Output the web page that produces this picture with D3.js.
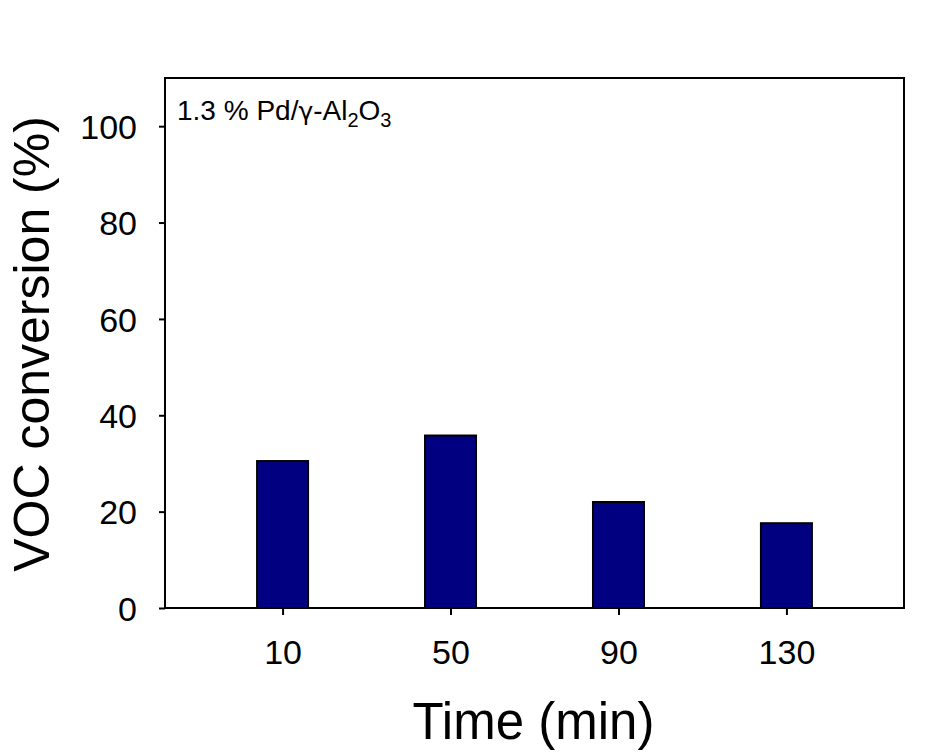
<!DOCTYPE html>
<html>
<head>
<meta charset="utf-8">
<script src="https://cdn.jsdelivr.net/npm/d3@7"></script>
<style>
  body { margin: 0; background: #fff; }
  text { font-family: "Liberation Sans", Arial, sans-serif; fill: #000; }
</style>
</head>
<body>
<div class="chart"></div>
<script>
// data
const times = ["10", "50", "90", "130"];
const conversion = [30.5, 35.8, 22.0, 17.6];
const yTicks = [0, 20, 40, 60, 80, 100];

const margin = {top: 78, right: 40, bottom: 147, left: 165};
const width = 944 - margin.left - margin.right;
const height = 755 - margin.top - margin.bottom;

const svg = d3.select('.chart')
    .append('svg')
    .attr('width', 944)
    .attr('height', 755)
    .append('g')
    .attr('transform', `translate(${margin.left},${margin.top})`);

const xScale = d3.scalePoint()
    .domain(times)
    .range([0, width])
    .padding(0.7);

const yScale = d3.scaleLinear()
    .domain([0, 110])
    .range([height, 0]);

const barWidth = 51;

// bars
svg.selectAll('rect.bar')
    .data(times.map((t, i) => ({time: t, value: conversion[i]})))
    .enter()
    .append('rect')
    .attr('class', 'bar')
    .attr('x', d => xScale(d.time) - barWidth / 2)
    .attr('y', d => yScale(d.value))
    .attr('width', barWidth)
    .attr('height', d => height - yScale(d.value))
    .attr('fill', '#000080')
    .attr('stroke', '#000')
    .attr('stroke-width', 2);

// axes
const xAxis = d3.axisBottom(xScale).tickSize(7).tickPadding(26);
const yAxis = d3.axisLeft(yScale).tickValues(yTicks).tickSize(6).tickPadding(22);

const gx = svg.append('g')
    .attr('class', 'axis x-axis')
    .attr('transform', `translate(0,${height})`)
    .call(xAxis);

const gy = svg.append('g')
    .attr('class', 'axis y-axis')
    .call(yAxis);

[gx, gy].forEach(g => {
    g.select('.domain').remove();
    g.selectAll('line').attr('stroke', '#000').attr('stroke-width', 2);
    g.selectAll('text')
        .attr('font-size', 34)
        .attr('font-family', '"Liberation Sans", Arial, sans-serif');
});
gy.selectAll('text').attr('dy', '0.36em');
gx.selectAll('text').attr('dy', '0.68em');

// frame
svg.append('rect')
    .attr('x', 0)
    .attr('y', 0)
    .attr('width', width)
    .attr('height', height)
    .attr('fill', 'none')
    .attr('stroke', '#000')
    .attr('stroke-width', 2);

// axis titles
svg.append('text')
    .attr('x', width / 2 - 1)
    .attr('y', height + 131)
    .attr('text-anchor', 'middle')
    .attr('font-size', 51)
    .text('Time (min)');

svg.append('text')
    .attr('transform', `translate(${-116},${height / 2 + 1}) rotate(-90)`)
    .attr('text-anchor', 'middle')
    .attr('font-size', 50)
    .text('VOC conversion (%)');

// annotation
const note = svg.append('text')
    .attr('x', 12)
    .attr('y', 42)
    .attr('font-size', 28);
note.append('tspan').text('1.3 % Pd/');
note.append('tspan').attr('font-family', '"DejaVu Sans", sans-serif').attr('font-size', 25).text('γ');
note.append('tspan').text('-Al');
note.append('tspan').attr('dy', 7).attr('font-size', 20).text('2');
note.append('tspan').attr('dy', -7).text('O');
note.append('tspan').attr('dy', 7).attr('font-size', 20).text('3');
</script>
</body>
</html>
